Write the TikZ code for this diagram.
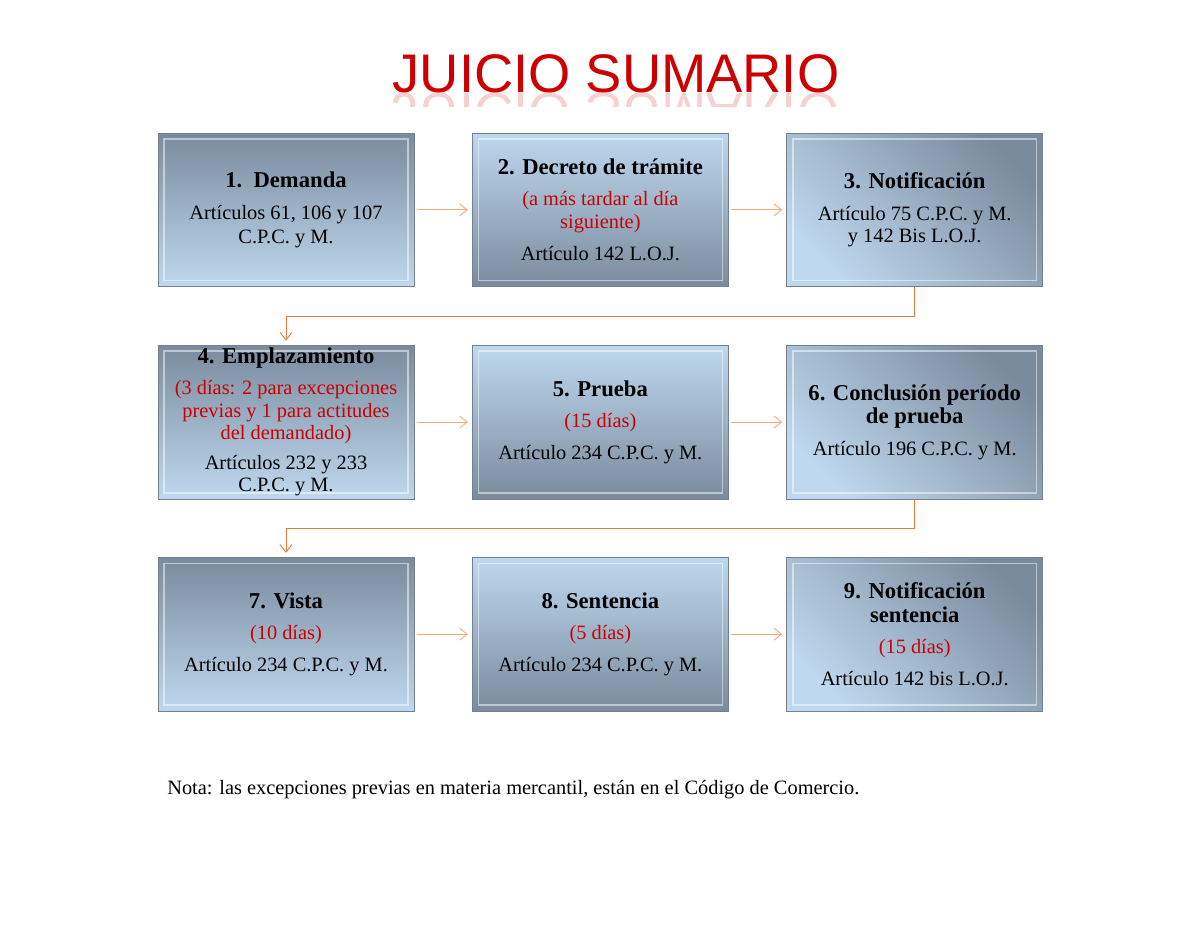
\documentclass[tikz,border=0pt]{standalone}
\usepackage{fontspec}
\setmainfont{Liberation Serif}
\newfontfamily\titulofont{Liberation Sans}
\usetikzlibrary{arrows.meta,calc,positioning}
\definecolor{oscuro}{RGB}{122,139,157}
\definecolor{claro}{RGB}{190,216,239}
\definecolor{rojo}{RGB}{204,0,0}
\definecolor{naranja}{RGB}{244,170,120}
\definecolor{naranjaosc}{RGB}{226,124,62}
\definecolor{borde}{RGB}{118,128,140}
\newcommand{\encabezado}[1]{{\fontsize{15}{17}\selectfont\bfseries #1}}
\newcommand{\plazo}[1]{\textcolor{rojo}{#1}}
\tikzset{
flujo/.style={>={Straight Barb[length=5pt,width=8pt]},
    node distance=1.36cm,x=0.02328cm,y=-0.02328cm},
paso/.style={rectangle,draw=borde,line width=0.5pt,minimum width=5.96cm,
    minimum height=3.58cm,inner xsep=2pt,inner ysep=0pt,outer sep=0pt,align=center,
    font=\fontsize{13.5}{14.8}\selectfont,
    path picture={\draw[white,opacity=0.5,line width=1pt]
        ([shift={(4pt,-4pt)}]path picture bounding box.north west) rectangle
        ([shift={(-4pt,4pt)}]path picture bounding box.south east);}},
pasoA/.style={paso,top color=oscuro,bottom color=claro},
pasoB/.style={paso,top color=claro,bottom color=oscuro},
pasoC/.style={paso,top color=oscuro,bottom color=claro,shading angle=-45},
flecha/.style={->,draw=naranja,line width=0.6pt,shorten >=3pt,shorten <=2pt},
enlace/.style={->,draw=naranjaosc,line width=0.6pt,shorten >=3pt},
}

\begin{document}
\begin{tikzpicture}[flujo]
    \useasboundingbox (0,0) rectangle (1200,927);

    % titulo con reflejo
    \node[font=\titulofont\fontsize{36}{40}\selectfont,text=rojo,anchor=base]
        (titulo) at (616,92) {JUICIO SUMARIO};
    \begin{scope}
        \clip (380,93) rectangle (860,106);
        \begin{scope}[shift={(616,93)},yscale=-1]
            \node[font=\titulofont\fontsize{36}{40}\selectfont,text=rojo,
                anchor=base,transform shape,opacity=0.18] (reflejo) at (0,0) {JUICIO SUMARIO};
        \end{scope}
    \end{scope}

    \node[pasoA,anchor=north west] (1) at (158,133)
        {\encabezado{1.\ \ Demanda}\\[6pt] Artículos 61, 106 y 107\\[1pt] C.P.C. y M.};
    \node[pasoB,right=of 1] (2)
        {\encabezado{2. Decreto de trámite}\\[6pt] \plazo{(a más tardar al día}\\
         \plazo{siguiente)}\\[7pt] Artículo 142 L.O.J.};
    \node[pasoC,right=of 2] (3)
        {\encabezado{3. Notificación}\\[6pt] Artículo 75 C.P.C. y M.\\ y 142 Bis L.O.J.};

    \node[pasoA,below=of 1] (4)
        {\encabezado{4. Emplazamiento}\\[6pt] \plazo{(3 días: 2 para excepciones}\\
         \plazo{previas y 1 para actitudes}\\ \plazo{del demandado)}\\[5pt]
         Artículos 232 y 233\\ C.P.C. y M.};
    \node[pasoB,below=of 2] (5)
        {\encabezado{5. Prueba}\\[6pt] \plazo{(15 días)}\\[6pt] Artículo 234 C.P.C. y M.};
    \node[pasoC,below=of 3] (6)
        {\encabezado{6. Conclusión período}\\[1pt] \encabezado{de prueba}\\[6pt]
         Artículo 196 C.P.C. y M.};

    \node[pasoA,below=of 4] (7)
        {\encabezado{7. Vista}\\[6pt] \plazo{(10 días)}\\[6pt] Artículo 234 C.P.C. y M.};
    \node[pasoB,below=of 5] (8)
        {\encabezado{8. Sentencia}\\[6pt] \plazo{(5 días)}\\[6pt] Artículo 234 C.P.C. y M.};
    \node[pasoC,below=of 6] (9)
        {\encabezado{9. Notificación}\\[1pt] \encabezado{sentencia}\\[6pt]
         \plazo{(15 días)}\\[6pt] Artículo 142 bis L.O.J.};

    \path[flecha]
        (1) edge (2)
        (2) edge (3)
        (4) edge (5)
        (5) edge (6)
        (7) edge (8)
        (8) edge (9)
    ;
    \draw[enlace] (3.south) |- ($(3.south)!.5!(4.north)$) -| (4.north);
    \draw[enlace] (6.south) |- ($(6.south)!.5!(7.north)$) -| (7.north);

    \node[anchor=base west,font=\fontsize{13.5}{15.5}\selectfont] (nota) at (162,794)
        {Nota: las excepciones previas en materia mercantil, están en el Código de Comercio.};
\end{tikzpicture}
\end{document}
